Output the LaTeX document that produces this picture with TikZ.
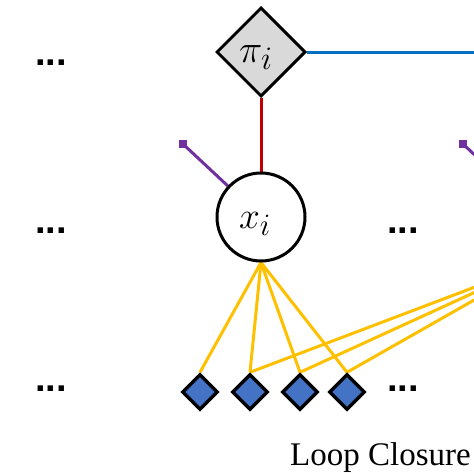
\documentclass[tikz,border=0pt]{standalone}
\usepackage{graphicx}
\usepackage{fontspec}
\newfontfamily\captionserif{Liberation Serif}
\newfontfamily\dotfont{Liberation Sans}
\usetikzlibrary{shapes.geometric,backgrounds}
\definecolor{piGray}{HTML}{D9D9D9}
\definecolor{lmBlue}{HTML}{4472C4}
\definecolor{edgeBlue}{HTML}{0070C0}
\definecolor{edgeRed}{HTML}{C00000}
\definecolor{edgePurple}{HTML}{7030A0}
\definecolor{edgeGold}{HTML}{FFC000}
\newcommand{\bigmath}[2]{\scalebox{#1}{$#2$}}
\begin{document}
\begin{tikzpicture}[x=1pt,y=-1pt,
  posebox/.style={diamond, draw=black, line width=3pt, fill=piGray,
    minimum width=89pt, minimum height=89pt, inner sep=0pt,
    font=\fontsize{24.88}{28}\selectfont, text height=20pt, text depth=0pt},
  statecirc/.style={circle, draw=black, line width=3pt, fill=white,
    minimum size=88pt, inner sep=0pt,
    font=\fontsize{24.88}{28}\selectfont, text height=22pt, text depth=0pt},
  lmark/.style={diamond, draw=black, line width=3.4pt, fill=lmBlue,
    minimum width=36pt, minimum height=36pt, inner sep=0pt},
  prior/.style={rectangle, fill=edgePurple, minimum size=8.5pt, inner sep=0pt},
  dotsnode/.style={font=\dotfont\bfseries\fontsize{38}{40}\selectfont,
    inner sep=0pt, anchor=base},
  edge/.style={line width=3pt},
]
\useasboundingbox (0,0) rectangle (474,474);
\clip (0,0) rectangle (474,474);

% nodes
\node[posebox] (pi) at (261,52) {\bigmath{1.58}{\pi_i}\hspace*{10pt}};
\node[statecirc] (xi) at (261,217) {\bigmath{1.5}{x_i}\hspace*{12pt}};
\node[prior] (pl) at (183,144) {};
\node[prior] (pr) at (463,144) {};
\node[lmark] (l1) at (200,392) {};
\node[lmark] (l2) at (250,392) {};
\node[lmark] (l3) at (300,392) {};
\node[lmark] (l4) at (347,392) {};

% off-canvas ends
\coordinate (pjw) at (495,52);
\coordinate (xjb) at (541,262);
\coordinate (xjp) at (510,188);

% dots
\node[dotsnode] (d1) at (51,65.5) {...};
\node[dotsnode] (d2) at (51,233.5) {...};
\node[dotsnode] (d3) at (51,391.5) {...};
\node[dotsnode] (d4) at (403,233.5) {...};
\node[dotsnode] (d5) at (403,391.5) {...};

% caption
\node[font=\captionserif\fontsize{33}{36}\selectfont, inner sep=0pt, anchor=base west] (lc) at (290,465) {Loop Closure};

\begin{scope}[on background layer]
  \draw[edge, edgeBlue] (pi.east) -- (pjw);
  \draw[edge, edgeRed] (pi.south) -- (xi.north);
  \draw[edge, edgePurple] (pl.center) -- (xi);
  \draw[edge, edgePurple] (pr.center) -- (xjp);
  \foreach \l in {l1,l2,l3,l4} \draw[edge, edgeGold] (xi.south) -- (\l.north);
  \foreach \l in {l2,l3,l4} \draw[edge, edgeGold] (\l.north) -- (xjb);
\end{scope}
\end{tikzpicture}
\end{document}
